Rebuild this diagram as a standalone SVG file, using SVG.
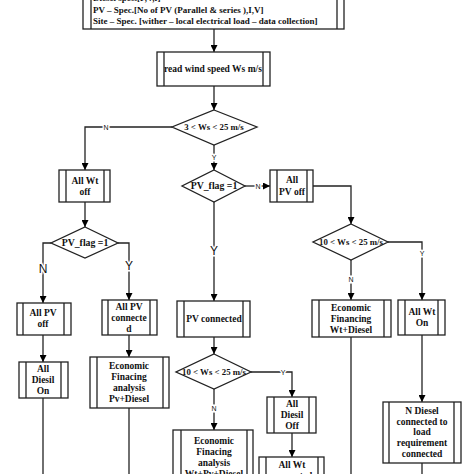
<svg xmlns="http://www.w3.org/2000/svg" width="474" height="474" viewBox="0 0 474 474">
<defs>
<marker id="ah" viewBox="0 0 10 10" refX="10" refY="5" markerWidth="7" markerHeight="7" markerUnits="userSpaceOnUse" orient="auto"><path d="M0,0 L10,5 L0,10 z" fill="#000"/></marker>
</defs>
<style>
.b{fill:#fff;stroke:#222;stroke-width:1.3}
.i{stroke:#222;stroke-width:1.3;fill:none}
.t{font-family:"Liberation Serif",serif;font-weight:bold;font-size:9.5px;fill:#111;text-anchor:middle}
.d{font-family:"Liberation Serif",serif;font-weight:bold;font-size:8.8px;fill:#111;text-anchor:middle}
.c{stroke:#222;stroke-width:1.3;fill:none}
.l{font-family:"Liberation Sans",sans-serif;font-size:7px;fill:#111;text-anchor:middle;stroke:#fff;stroke-width:3;paint-order:stroke}
.L{font-family:"Liberation Sans",sans-serif;font-size:12px;fill:#111;text-anchor:middle;stroke:#fff;stroke-width:3;paint-order:stroke}
</style>
<rect width="474" height="474" fill="#fff"/>

<g id="connectors">
<path class="c" d="M214,29 V52" marker-end="url(#ah)"/>
<path class="c" d="M214,86 V110" marker-end="url(#ah)"/>
<path class="c" d="M172,127 H85 V170" marker-end="url(#ah)"/>
<path class="c" d="M214,145 V170" marker-end="url(#ah)"/>
<path class="c" d="M85,202 V227" marker-end="url(#ah)"/>
<path class="c" d="M51,243 H43 V303" marker-end="url(#ah)"/>
<path class="c" d="M118,243 H129 V300" marker-end="url(#ah)"/>
<path class="c" d="M214,202 V301" marker-end="url(#ah)"/>
<path class="c" d="M245,186 H270" marker-end="url(#ah)"/>
<path class="c" d="M313,186 H351 V224" marker-end="url(#ah)"/>
<path class="c" d="M351,260 V300" marker-end="url(#ah)"/>
<path class="c" d="M388,242 H422 V300" marker-end="url(#ah)"/>
<path class="c" d="M422,335 V402" marker-end="url(#ah)"/>
<path class="c" d="M422,463 V474"/>
<path class="c" d="M351,337 V474"/>
<path class="c" d="M43,335 V362" marker-end="url(#ah)"/>
<path class="c" d="M43,398 V474"/>
<path class="c" d="M129,335 V357" marker-end="url(#ah)"/>
<path class="c" d="M129,408 V474"/>
<path class="c" d="M214,337 V354" marker-end="url(#ah)"/>
<path class="c" d="M214,389 V430" marker-end="url(#ah)"/>
<path class="c" d="M251,372 H292 V397" marker-end="url(#ah)"/>
<path class="c" d="M292,433 V457" marker-end="url(#ah)"/>
<text class="l" x="106" y="130">N</text>
<text class="l" x="214" y="160">Y</text>
<text class="L" x="43" y="273">N</text>
<text class="L" x="129" y="270">Y</text>
<text class="L" x="214" y="255">Y</text>
<text class="l" x="258" y="189">N</text>
<text class="l" x="351" y="282">N</text>
<text class="l" x="422" y="256">Y</text>
<text class="l" x="214" y="411">N</text>
<text class="l" x="283" y="375">Y</text>
</g>

<g id="n-spec">
<rect class="b" x="83" y="-10" width="261" height="39"/>
<path class="i" d="M91,-10 V29 M337,-10 V29"/>
<text class="t" style="text-anchor:start;font-size:9px" x="93" y="1">Diesel spec.[P,V,f]</text>
<text class="t" style="text-anchor:start;font-size:9px" x="93" y="13">PV – Spec.[No of PV (Parallel &amp; series ),I,V]</text>
<text class="t" style="text-anchor:start;font-size:9px" x="93" y="24">Site – Spec. [wither – local electrical load – data collection]</text>
</g>

<g id="n-read">
<rect class="b" x="157" y="52" width="113" height="34"/>
<path class="i" d="M164,52 V86 M263,52 V86"/>
<text class="t" x="213" y="72">read wind speed Ws m/s</text>
</g>

<g id="d-ws1">
<polygon class="b" points="214,110 257,127 214,145 172,127"/>
<text class="d" x="214" y="130">3 &lt; Ws &lt; 25  m/s</text>
</g>

<g id="n-allwtoff">
<rect class="b" x="59" y="170" width="51" height="32"/>
<path class="i" d="M66,170 V202 M104,170 V202"/>
<text class="t" x="85" y="184">All  Wt</text>
<text class="t" x="85" y="195">off</text>
</g>

<g id="d-pvflag-left">
<polygon class="b" points="85,227 118,243 85,258 51,243"/>
<text class="d" style="font-size:9.8px" x="85" y="246">PV_flag =1</text>
</g>

<g id="d-pvflag-mid">
<polygon class="b" points="214,170 245,186 214,202 182,186"/>
<text class="d" style="font-size:9.8px" x="214" y="189">PV_flag =1</text>
</g>

<g id="n-allpvoff-top">
<rect class="b" x="270" y="170" width="43" height="32"/>
<path class="i" d="M277,170 V202 M307,170 V202"/>
<text class="t" x="292" y="183">All</text>
<text class="t" x="292" y="195">PV off</text>
</g>

<g id="d-ws2">
<polygon class="b" points="351,224 388,242 351,260 313,242"/>
<text class="d" x="351" y="245">10 &lt; Ws &lt; 25  m/s</text>
</g>

<g id="n-econ-wt">
<rect class="b" x="312" y="300" width="79" height="37"/>
<path class="i" d="M319,300 V337 M384,300 V337"/>
<text class="t" x="351" y="311">Economic</text>
<text class="t" x="351" y="322">Financing</text>
<text class="t" x="351" y="333">Wt+Diesel</text>
</g>

<g id="n-allwton">
<rect class="b" x="398" y="300" width="47" height="35"/>
<path class="i" d="M405,300 V335 M438,300 V335"/>
<text class="t" x="422" y="315">All  Wt</text>
<text class="t" x="422" y="326">On</text>
</g>

<g id="n-ndiesel">
<rect class="b" x="383" y="402" width="78" height="61"/>
<path class="i" d="M389,402 V463 M454,402 V463"/>
<text class="t" x="422" y="414">N Diesel</text>
<text class="t" x="422" y="425">connected to</text>
<text class="t" x="422" y="435">load</text>
<text class="t" x="422" y="446">requirement</text>
<text class="t" x="422" y="457">connected</text>
</g>

<g id="n-allpvoff-left">
<rect class="b" x="17" y="303" width="54" height="32"/>
<path class="i" d="M23,303 V335 M64,303 V335"/>
<text class="t" x="43" y="316">All  PV</text>
<text class="t" x="43" y="327">off</text>
</g>

<g id="n-alldieselon">
<rect class="b" x="19" y="362" width="49" height="36"/>
<path class="i" d="M26,362 V398 M61,362 V398"/>
<text class="t" x="43" y="372">All</text>
<text class="t" x="43" y="383">Diesil</text>
<text class="t" x="43" y="394">On</text>
</g>

<g id="n-allpvconnected">
<rect class="b" x="102" y="300" width="55" height="35"/>
<path class="i" d="M108,300 V335 M150,300 V335"/>
<text class="t" x="129" y="310">All  PV</text>
<text class="t" x="129" y="321">connecte</text>
<text class="t" x="129" y="332">d</text>
</g>

<g id="n-econ-pv">
<rect class="b" x="90" y="357" width="79" height="51"/>
<path class="i" d="M97,357 V408 M163,357 V408"/>
<text class="t" x="129" y="369">Economic</text>
<text class="t" x="129" y="380">Finacing</text>
<text class="t" x="129" y="391">analysis</text>
<text class="t" x="129" y="402">Pv+Diesel</text>
</g>

<g id="n-pvconnected">
<rect class="b" x="177" y="301" width="73" height="36"/>
<path class="i" d="M184,301 V337 M243,301 V337"/>
<text class="t" x="214" y="322">PV connected</text>
</g>

<g id="d-ws3">
<polygon class="b" points="214,354 251,372 214,389 176,372"/>
<text class="d" x="214" y="375">10 &lt; Ws &lt; 25  m/s</text>
</g>

<g id="n-econ-all">
<rect class="b" x="173" y="430" width="80" height="54"/>
<path class="i" d="M181,430 V484 M247,430 V484"/>
<text class="t" x="214" y="444">Economic</text>
<text class="t" x="214" y="455">Finacing</text>
<text class="t" x="214" y="466">analysis</text>
<text class="t" x="214" y="477">Wt+Pv+Diesel</text>
</g>

<g id="n-alldieseloff">
<rect class="b" x="267" y="397" width="49" height="36"/>
<path class="i" d="M274,397 V433 M309,397 V433"/>
<text class="t" x="292" y="407">All</text>
<text class="t" x="292" y="418">Diesil</text>
<text class="t" x="292" y="429">Off</text>
</g>

<g id="n-allwt-bottom">
<rect class="b" x="259" y="457" width="65" height="30"/>
<path class="i" d="M266,457 V487 M318,457 V487"/>
<text class="t" x="292" y="468">All  Wt</text>
<text class="t" x="292" y="479">connected</text>
</g>
</svg>
